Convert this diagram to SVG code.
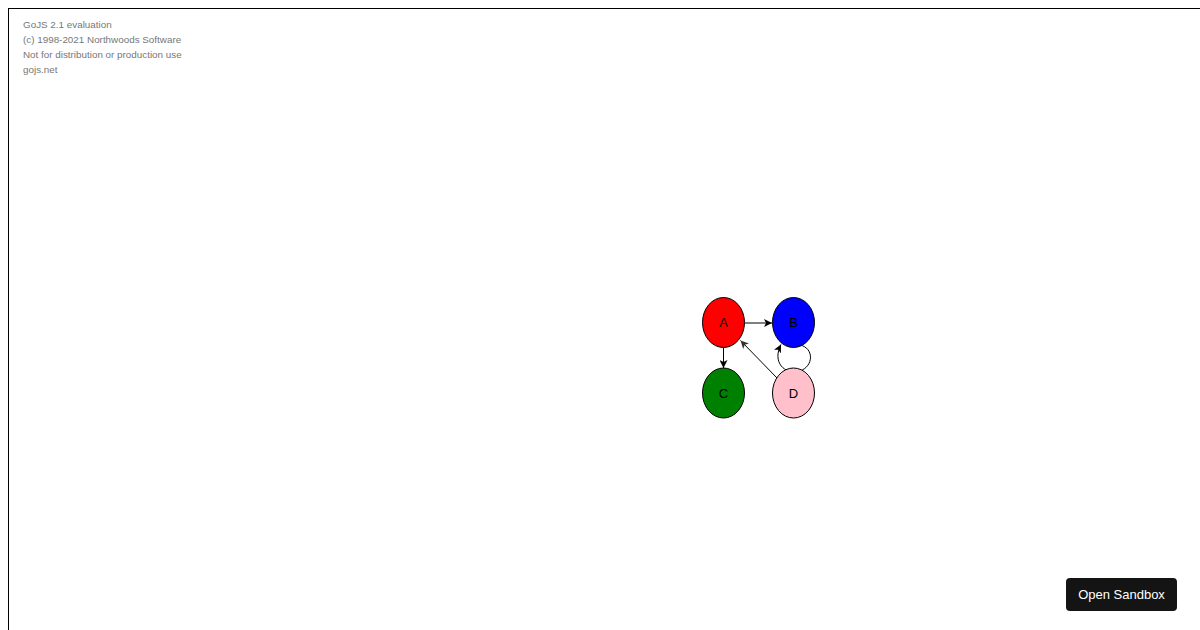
<svg xmlns="http://www.w3.org/2000/svg" width="1200" height="630" viewBox="0 0 1200 630">
<defs>
<style>
.wm{font-family:"Liberation Sans",Arial,sans-serif;font-size:9.85px;fill:#777}
.node ellipse{stroke:#000;stroke-width:1}
.node text{font-family:"Liberation Sans",Arial,sans-serif;font-size:13px;fill:#000;text-anchor:middle;dominant-baseline:central}
.link{fill:none;stroke:#000;stroke-width:1}
</style>
<marker id="arr" viewBox="0 0 8 8" refX="8" refY="4" markerWidth="8" markerHeight="8" markerUnits="userSpaceOnUse" orient="auto">
<path d="M0,0 L8,4 L0,8 L2,4 Z" fill="#000"/>
</marker>
<marker id="arrg" viewBox="0 0 8 8" refX="8" refY="4" markerWidth="8" markerHeight="8" markerUnits="userSpaceOnUse" orient="auto">
<path d="M0,0 L8,4 L0,8 L2,4 Z" fill="#333"/>
</marker>
</defs>
<rect width="1200" height="630" fill="#fff"/>
<rect x="8.5" y="8.5" width="1300" height="700" fill="none" stroke="#000" stroke-width="1"/>
<g id="watermark">
<text class="wm" x="23" y="28">GoJS 2.1 evaluation</text>
<text class="wm" x="23" y="43">(c) 1998-2021 Northwoods Software</text>
<text class="wm" x="23" y="58">Not for distribution or production use</text>
<text class="wm" x="23" y="73">gojs.net</text>
</g>
<g id="connectors">
<path class="link" d="M744.5,323 L772,323" marker-end="url(#arr)"/>
<path class="link" d="M723.5,347.5 L723.5,368" marker-end="url(#arr)"/>
<path class="link" d="M777,378 L740.5,340.5" stroke="#444" marker-end="url(#arrg)"/>
<path class="link" d="M800,345 C814,348 814,366 800,371 C784,375 772,362 781,344.5" marker-end="url(#arr)"/>
</g>
<g id="node-A" class="node"><ellipse cx="723.5" cy="322.5" rx="21" ry="25" fill="#ff0000"/><text x="723.5" y="322.5">A</text></g>
<g id="node-B" class="node"><ellipse cx="793.5" cy="322.5" rx="21" ry="25" fill="#0000ff"/><text x="793.5" y="322.5">B</text></g>
<g id="node-C" class="node"><ellipse cx="723.5" cy="393" rx="21" ry="25" fill="#008000"/><text x="723.5" y="393">C</text></g>
<g id="node-D" class="node"><ellipse cx="793.5" cy="393" rx="21" ry="25" fill="#ffc0cb"/><text x="793.5" y="393">D</text></g>
<g id="button">
<rect x="1066" y="578" width="111" height="33" rx="4" fill="#141414"/>
<text x="1121.5" y="594" font-family="'Liberation Sans',Arial,sans-serif" font-size="13" fill="#fff" text-anchor="middle" dominant-baseline="central">Open Sandbox</text>
</g>
</svg>
